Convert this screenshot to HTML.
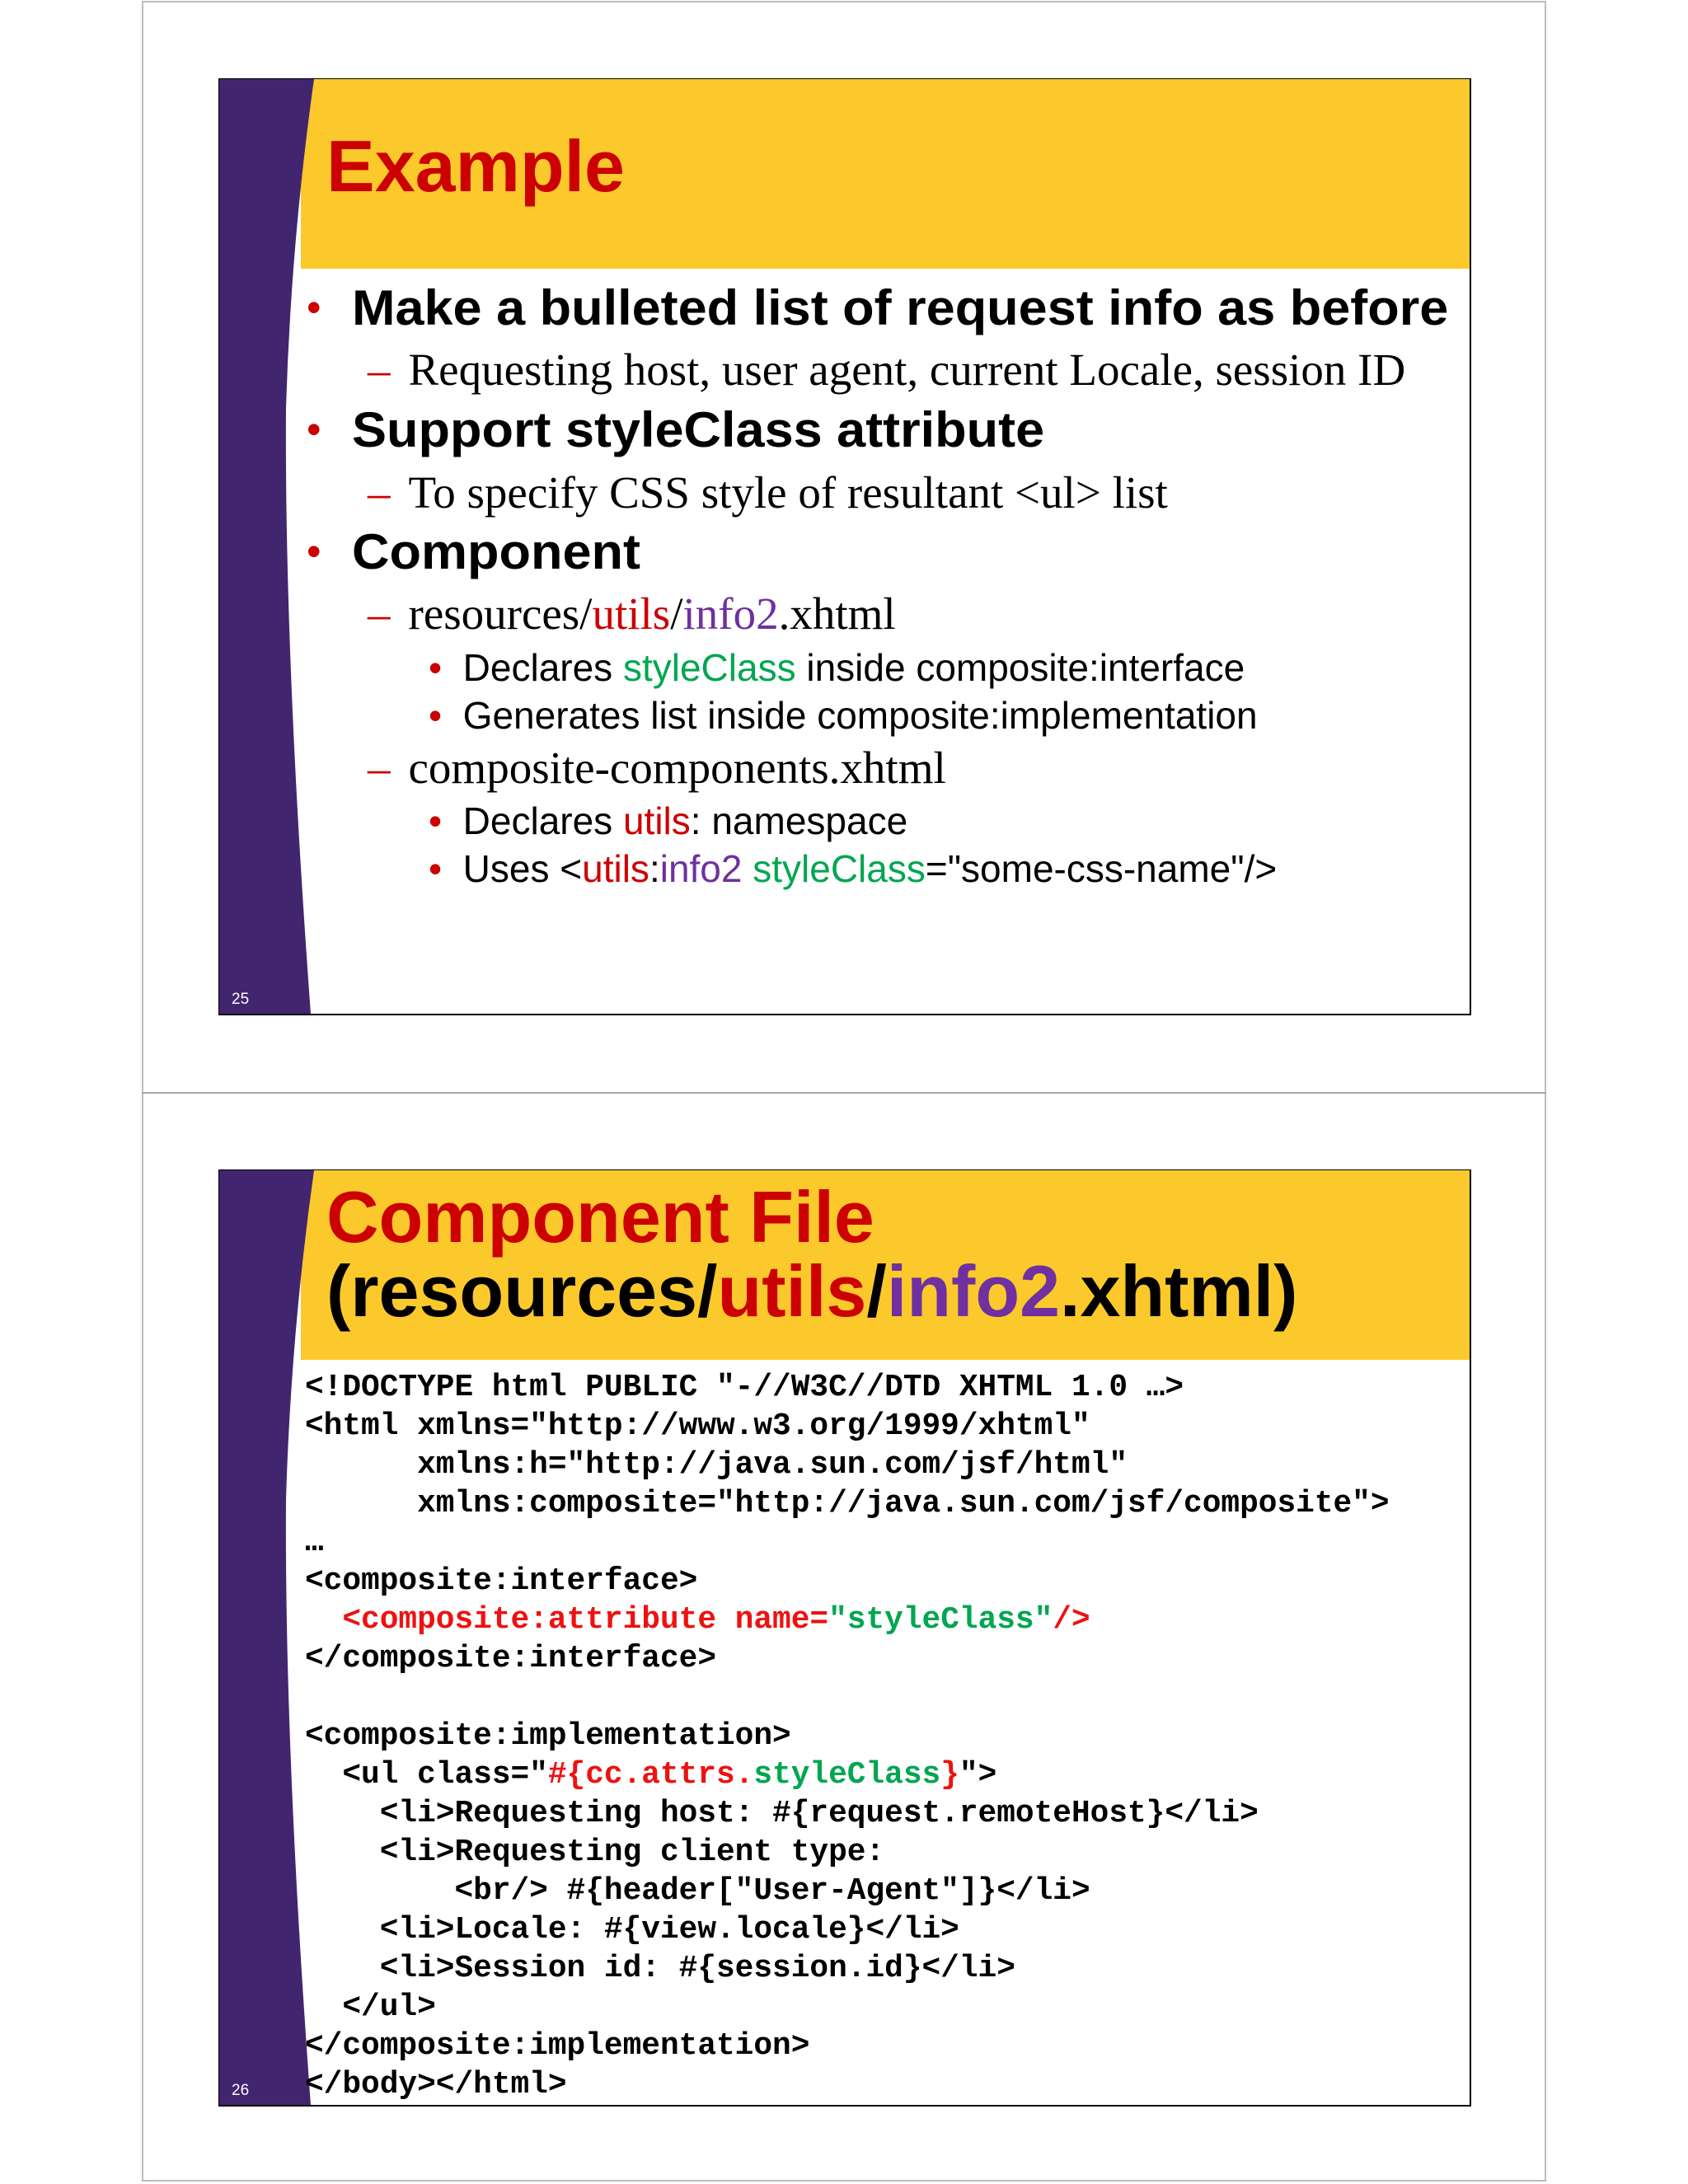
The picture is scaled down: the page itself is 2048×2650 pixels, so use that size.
<!DOCTYPE html>
<html><head><meta charset="utf-8">
<style>
html,body{margin:0;padding:0;background:#fff;}
body{width:2048px;height:2650px;position:relative;overflow:hidden;}
.abs{position:absolute;white-space:pre;}
.sans{font-family:"Liberation Sans",Arial,sans-serif;}
.serif{font-family:"Liberation Serif","Times New Roman",serif;}
.mono{font-family:"Liberation Mono","Courier New",monospace;font-weight:bold;}
.r{color:#cc0000}.p{color:#7030a0}.g{color:#00a650}.rr{color:#ee1111}.gg{color:#00a651}
.h1{font-weight:bold;font-size:60px;line-height:60px;color:#000;transform:scaleX(1.05);transform-origin:0 0;}
.h2{font-size:55px;line-height:55px;color:#000}
.h2 .d{margin-right:22px}
.h3{font-size:46px;line-height:46px;color:#000}
.code{font-size:37.8px;line-height:47px;color:#000;}
</style></head>
<body>
<div class="abs" style="left:172px;top:1px;width:1704px;height:2646px;border:2px solid #bdbdbd;box-sizing:border-box;"></div>
<div class="abs" style="left:172px;top:1325px;width:1704px;height:2px;background:#a8a8a8;"></div>

<!-- slide 1 -->
<svg class="abs" style="left:265px;top:95px" width="1520" height="1137">
<rect x="0" y="0" width="1519" height="1136" fill="#fff" stroke="#000" stroke-width="2"/>
<rect x="100" y="1" width="1418" height="230" fill="#fbc92b"/>
<path d="M1 1 L116 1 Q88 200 82 400 Q80 700 112 1135 L1 1135 Z" fill="#42256f"/>
</svg>
<div class="abs sans" style="left:281px;top:1202px;font-size:19px;color:#fff;">25</div>
<div class="abs sans r" style="left:396px;top:152px;font-size:88px;line-height:100px;font-weight:bold;">Example</div>

<div class="abs sans r" style="left:372px;top:348px;font-size:50px;line-height:50px;">•</div>
<div class="abs sans h1" style="left:427px;top:344px;">Make a bulleted list of request info as before</div>
<div class="abs serif h2" style="left:446px;top:421px;"><span class="r d">–</span>Requesting host, user agent, current Locale, session ID</div>
<div class="abs sans r" style="left:372px;top:496px;font-size:50px;line-height:50px;">•</div>
<div class="abs sans h1" style="left:427px;top:492px;">Support styleClass attribute</div>
<div class="abs serif h2" style="left:446px;top:570px;"><span class="r d">–</span>To specify CSS style of resultant &lt;ul&gt; list</div>
<div class="abs sans r" style="left:372px;top:644px;font-size:50px;line-height:50px;">•</div>
<div class="abs sans h1" style="left:427px;top:640px;">Component</div>
<div class="abs serif h2" style="left:446px;top:717px;"><span class="r d">–</span>resources/<span class="r">utils</span>/<span class="p">info2</span>.xhtml</div>
<div class="abs sans h3" style="left:520px;top:787px;"><span class="r">•</span>  Declares <span class="g">styleClass</span> inside composite:interface</div>
<div class="abs sans h3" style="left:520px;top:845px;"><span class="r">•</span>  Generates list inside composite:implementation</div>
<div class="abs serif h2" style="left:446px;top:904px;"><span class="r d">–</span>composite-components.xhtml</div>
<div class="abs sans h3" style="left:520px;top:973px;"><span class="r">•</span>  Declares <span class="r">utils</span>: namespace</div>
<div class="abs sans h3" style="left:520px;top:1031px;"><span class="r">•</span>  Uses &lt;<span class="r">utils</span>:<span class="p">info2</span> <span class="g">styleClass</span>="some-css-name"/&gt;</div>

<!-- slide 2 -->
<svg class="abs" style="left:265px;top:1419px" width="1520" height="1137">
<rect x="0" y="0" width="1519" height="1136" fill="#fff" stroke="#000" stroke-width="2"/>
<rect x="100" y="1" width="1418" height="230" fill="#fbc92b"/>
<path d="M1 1 L116 1 Q88 200 82 400 Q80 700 112 1135 L1 1135 Z" fill="#42256f"/>
</svg>
<div class="abs sans" style="left:281px;top:2526px;font-size:19px;color:#fff;">26</div>
<div class="abs sans r" style="left:396px;top:1432px;font-size:88px;line-height:90px;font-weight:bold;">Component File</div>
<div class="abs sans" style="left:396px;top:1522px;font-size:88px;line-height:90px;font-weight:bold;color:#000;">(resources/<span class="r">utils</span>/<span class="p">info2</span>.xhtml)</div>

<div class="abs mono code" style="left:370px;top:1661px;">&lt;!DOCTYPE html PUBLIC "-//W3C//DTD XHTML 1.0 …&gt;
&lt;html xmlns="http://www.w3.org/1999/xhtml"
      xmlns:h="http://java.sun.com/jsf/html"
      xmlns:composite="http://java.sun.com/jsf/composite"&gt;
…
&lt;composite:interface&gt;
  <span class="rr">&lt;composite:attribute name=</span><span class="gg">"styleClass"</span><span class="rr">/&gt;</span>
&lt;/composite:interface&gt;

&lt;composite:implementation&gt;
  &lt;ul class="<span class="rr">#{cc.attrs.</span><span class="gg">styleClass</span><span class="rr">}</span>"&gt;
    &lt;li&gt;Requesting host: #{request.remoteHost}&lt;/li&gt;
    &lt;li&gt;Requesting client type:
        &lt;br/&gt; #{header["User-Agent"]}&lt;/li&gt;
    &lt;li&gt;Locale: #{view.locale}&lt;/li&gt;
    &lt;li&gt;Session id: #{session.id}&lt;/li&gt;
  &lt;/ul&gt;
&lt;/composite:implementation&gt;
&lt;/body&gt;&lt;/html&gt;</div>
</body></html>
